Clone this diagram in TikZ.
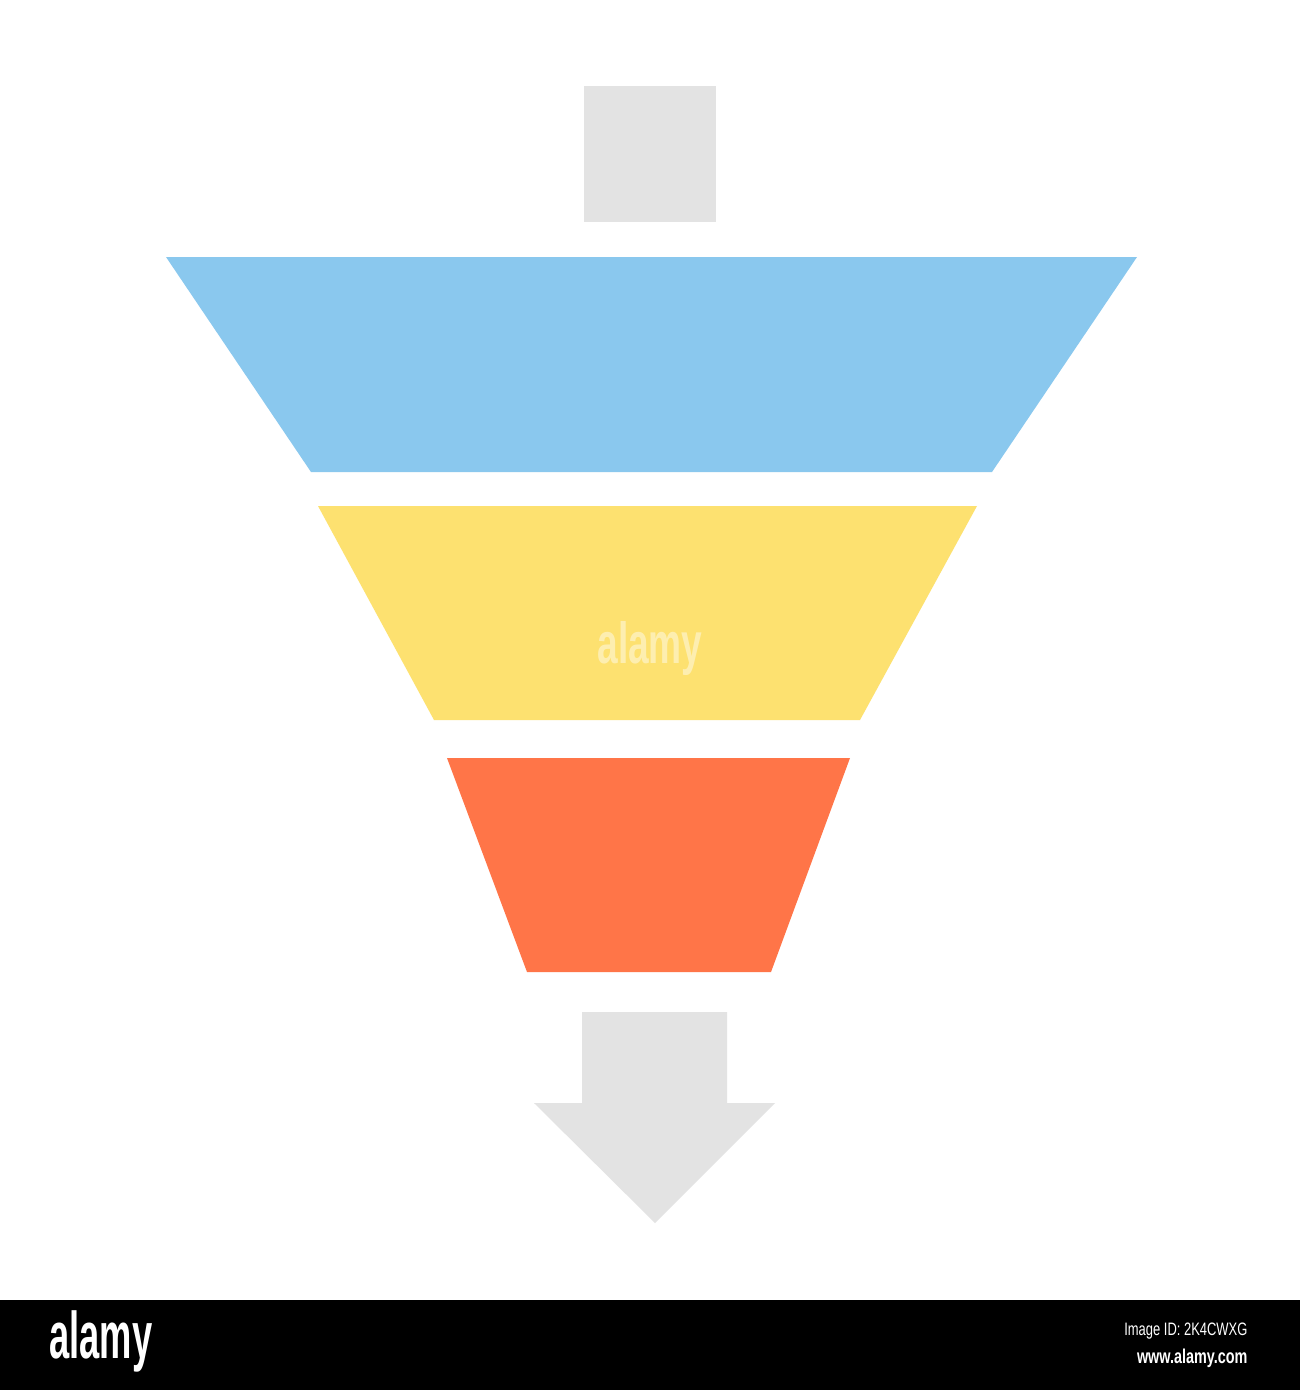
\documentclass[tikz,border=0pt]{standalone}
\usepackage{fontspec}
\setmainfont{Liberation Sans}
\definecolor{gray1}{HTML}{E3E3E3}
\definecolor{blue1}{HTML}{8AC8EE}
\definecolor{yellow1}{HTML}{FDE170}
\definecolor{orange1}{HTML}{FF7548}
\tikzset{
  stage/.style={draw=none},
  wm/.style={text=white,font=\bfseries}
}
\begin{document}
\begin{tikzpicture}[x=1pt,y=-1pt]
\useasboundingbox (0,0) rectangle (1300,1390);
\fill[white] (0,0) rectangle (1300,1390);
% input square
\fill[gray1] (584,86) rectangle (716,222);
% funnel stages
\fill[blue1] (166,257) -- (1137,257) -- (992,472) -- (311,472) -- cycle;
\fill[yellow1] (318,506) -- (977,506) -- (860,720) -- (434,720) -- cycle;
\fill[orange1] (447,758) -- (850,758) -- (771,972) -- (527,972) -- cycle;
% output arrow
\fill[gray1] (582,1012) -- (727,1012) -- (727,1103) -- (775,1103) -- (655,1223) -- (534,1103) -- (582,1103) -- cycle;
% faint watermark
\node[wm,opacity=0.45,font=\bfseries\fontsize{58}{58}\selectfont,xscale=0.64,transform shape] (wmc) at (650,648) {alamy};
% banner
\fill[black] (0,1300) rectangle (1300,1390);
\node[wm,font=\bfseries\fontsize{66}{66}\selectfont,xscale=0.55,transform shape] (logo) at (101,1341) {alamy};
\node[wm,font=\fontsize{18}{18}\selectfont,xscale=0.72,transform shape,anchor=east] (imgid) at (1250,1331) {Image ID: 2K4CWXG};
\node[wm,font=\bfseries\fontsize{20}{20}\selectfont,xscale=0.72,transform shape,anchor=east] (url) at (1250,1358) {www.alamy.com};
\end{tikzpicture}
\end{document}
